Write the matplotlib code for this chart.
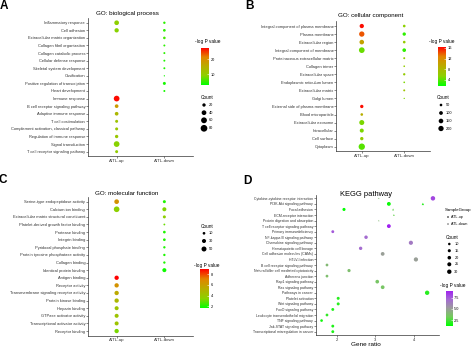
import numpy as np
import matplotlib
matplotlib.use("Agg")
import matplotlib.pyplot as plt
from matplotlib.colors import LinearSegmentedColormap, Normalize
from matplotlib.cm import ScalarMappable

plt.rcParams["font.family"] = ["Liberation Sans", "DejaVu Sans"]

W, H = 474, 348
nan = np.nan

groups = ["A/TL-up", "A/TL-down"]

# A: GO biological process
bp_terms = ["Inflammatory response", "Cell adhesion", "Extracellular matrix organization",
            "Collagen fibril organization", "Collagen catabolic process", "Cellular defense response",
            "Skeletal system development", "Ossification", "Positive regulation of transcription",
            "Heart development", "Immune response", "B cell receptor signaling pathway",
            "Adaptive immune response", "T cell costimulation", "Complement activation, classical pathway",
            "Regulation of immune response", "Signal transduction", "T cell receptor signaling pathway"]
bp_up_count = [39, 33, nan, nan, nan, nan, nan, nan, nan, nan, 58, 24, 24, 16, 16, 20, 58, 16]
bp_up_logp = [9.5, 9, nan, nan, nan, nan, nan, nan, nan, nan, 27, 18, 13.5, 11.5, 11, 11, 9, 10]
bp_down_count = [10, 13, 12, 7, 7, 7, 7, 3, 16, 7, nan, nan, nan, nan, nan, nan, nan, nan]
bp_down_logp = [5, 5, 6, 5, 5, 4.5, 4.5, 4, 4, 4, nan, nan, nan, nan, nan, nan, nan, nan]

# B: GO cellular component
cc_terms = ["Integral component of plasma membrane", "Plasma membrane", "Extracellular region",
            "Integral component of membrane", "Proteinaceous extracellular matrix", "Collagen trimer",
            "Extracellular space", "Endoplasmic reticulum lumen", "Extracellular matrix", "Golgi lumen",
            "External side of plasma membrane", "Blood microparticle", "Extracellular exosome",
            "Intracellular", "Cell surface", "Cytoplasm"]
cc_up_count = [130, 200, 150, 230, nan, nan, nan, nan, nan, nan, 80, 50, 180, 115, 80, 285]
cc_up_logp = [16, 14, 10, 4.5, nan, nan, nan, nan, nan, nan, 16, 9, 5, 5, 6, 4]
cc_down_count = [50, 80, 50, 95, 28, 20, 38, 20, 28, 12, nan, nan, nan, nan, nan, nan]
cc_down_logp = [5.5, 3, 6, 3, 6, 6, 6, 5, 7, 5, nan, nan, nan, nan, nan, nan]

# C: GO molecular function
mf_terms = ["Serine-type endopeptidase activity", "Calcium ion binding",
            "Extracellular matrix structural constituent", "Platelet-derived growth factor binding",
            "Protease binding", "Integrin binding", "Pyridoxal phosphate binding",
            "Protein tyrosine phosphatase activity", "Collagen binding", "Identical protein binding",
            "Antigen binding", "Receptor activity", "Transmembrane signaling receptor activity",
            "Protein kinase binding", "Heparin binding", "GTPase activator activity",
            "Transcriptional activator activity", "Receptor binding"]
mf_up_count = [43, 66, nan, nan, nan, nan, nan, nan, nan, nan, 36, 36, 36, 36, 30, 30, 30, 36]
mf_up_logp = [6.5, 3.5, nan, nan, nan, nan, nan, nan, nan, nan, 9, 6.5, 5.5, 4.8, 4.2, 4.2, 4.2, 3.2]
mf_down_count = [14, 30, 14, 1, 10, 10, 6, 6, 6, 30, nan, nan, nan, nan, nan, nan, nan, nan]
mf_down_logp = [2, 3.3, 3.5, 3, 2, 2, 2, 2, 2, 1.8, nan, nan, nan, nan, nan, nan, nan, nan]

# D: KEGG pathway
kegg_terms = ["Cytokine-cytokine receptor interaction", "PI3K-Akt signaling pathway", "Focal adhesion",
              "ECM-receptor interaction", "Protein digestion and absorption", "T cell receptor signaling pathway",
              "Primary immunodeficiency", "NF-kappa B signaling pathway", "Chemokine signaling pathway",
              "Hematopoietic cell lineage", "Cell adhesion molecules (CAMs)", "HTLV-I infection",
              "B cell receptor signaling pathway", "Natural killer cell mediated cytotoxicity",
              "Adherens junction", "Rap1 signaling pathway", "Ras signaling pathway", "Pathways in cancer",
              "Platelet activation", "Wnt signaling pathway", "FoxO signaling pathway",
              "Leukocyte transendothelial migration", "TNF signaling pathway", "Jak-STAT signaling pathway",
              "Transcriptional misregulation in cancer"]
kegg_up_ratio = [4.49, 3.35, 2.19, nan, nan, 3.35, 1.90, 2.76, 3.92, 2.62, 3.19, 4.05, 1.75,
                 2.32, 1.75, 3.05, 3.19, 4.34, 2.04, 2.04, 1.90, 1.75, 1.61, 1.90, 1.90]
kegg_up_count = [31, 23, 15, nan, nan, 23, 13, 19, 27, 18, 22, 28, 12,
                 16, 12, 21, 22, 30, 14, 14, 13, 12, 11, 13, 13]
kegg_up_logp = [8, 1.5, 1.3, nan, nan, 9, 7.5, 7, 6.5, 7, 5, 5, 4,
                3.8, 3.8, 3.5, 3.5, 2, 2, 2, 1.8, 2.2, 1.6, 1.8, 1.8]
kegg_down_ratio = [3.09, 4.23, 3.46, 3.48, 3.09] + [nan] * 20
kegg_down_count = [3, 9, 6, 5, 3] + [nan] * 20
kegg_down_logp = [4, 2, 3, 3, 4] + [nan] * 20

go_cmap = LinearSegmentedColormap.from_list("go", ["#00ff00", "#8cd100", "#b8ad00", "#e28400", "#ff0000"])
kegg_cmap = LinearSegmentedColormap.from_list("kegg", ["#00ff00", "#72cc5a", "#9c9c9c", "#a46ad2", "#a020f0"])

fig = plt.figure(figsize=(W / 100, H / 100), dpi=100)


def px_axes(x0, y0, x1, y1):
    return fig.add_axes([x0 / W, 1 - y1 / H, (x1 - x0) / W, (y1 - y0) / H])


def dot_area(count, a, b):
    d = np.sqrt(a + b * np.asarray(count, float))
    return (0.72 * d) ** 2


def style_axes(ax, lab_size):
    for s in ["top", "right"]:
        ax.spines[s].set_visible(False)
    for s in ["left", "bottom"]:
        ax.spines[s].set_linewidth(0.5)
        ax.spines[s].set_color("#333333")
    ax.tick_params(length=1.2, width=0.4, pad=0.8, labelsize=lab_size, colors="#333333")


def go_panel(box, terms, up_n, up_p, dn_n, dn_p, norm, sa, sb):
    ax = px_axes(*box)
    n = len(terms)
    ypos = np.arange(n)
    for xi, cnt, lp in [(0, up_n, up_p), (1, dn_n, dn_p)]:
        cnt = np.array(cnt, float)
        lp = np.array(lp, float)
        ok = ~np.isnan(cnt)
        ax.scatter(np.full(ok.sum(), xi), ypos[ok], s=dot_area(cnt[ok], sa, sb), c=lp[ok],
                   cmap=go_cmap, norm=norm, edgecolors="none", zorder=3, clip_on=False)
    ax.set_xlim(-0.6, 1.6)
    ax.set_ylim(n - 0.4, -0.6)
    ax.set_xticks([0, 1], groups)
    ax.set_yticks(ypos, terms)
    style_axes(ax, 2.9)
    ax.tick_params(axis="x", labelsize=3.2)
    return ax


def colorbar(box, norm, cmap, ticks, labels, title, tx, ty):
    cax = px_axes(*box)
    cb = fig.colorbar(ScalarMappable(norm=norm, cmap=cmap), cax=cax, ticks=ticks)
    cb.outline.set_visible(False)
    cb.ax.set_yticklabels(labels)
    cb.ax.tick_params(length=1.5, width=0.4, color="white", direction="in", pad=1, labelsize=2.8)
    ov.text(tx, ty, title, ha="center", va="center", fontsize=3.4)


ov = fig.add_axes([0, 0, 1, 1], zorder=10)
ov.set_xlim(0, W)
ov.set_ylim(H, 0)
ov.axis("off")


def size_legend(x, ys, title_xy, counts, sa, sb, marker="o"):
    ov.text(title_xy[0], title_xy[1], "Count", ha="center", va="center", fontsize=3.4)
    ov.scatter([x] * len(ys), ys, s=dot_area(counts, sa, sb), c="black", marker=marker, edgecolors="none")
    for y, c in zip(ys, counts):
        ov.text(x + 5, y, str(c), ha="left", va="center", fontsize=2.8)


# Panel A
norm_a = Normalize(3, 27.5)
go_panel((88, 18.2, 193, 156.2), bp_terms, bp_up_count, bp_up_logp, bp_down_count, bp_down_logp,
         norm_a, 0, 0.5625)
ov.text(127, 13.5, "GO: biological process", ha="center", va="center", fontsize=4.5)
colorbar((201, 47.7, 209, 85), norm_a, go_cmap, [10, 20], ["10", "20"], "-log P value", 207.5, 42)
size_legend(204, [105, 112.7, 120.3, 128.3], (207, 97.7), [20, 40, 60, 80], 0, 0.5625)

# Panel B
norm_b = Normalize(1.75, 16.4)
go_panel((336.3, 21.2, 429.7, 151.5), cc_terms, cc_up_count, cc_up_logp, cc_down_count, cc_down_logp,
         norm_b, 0, 0.1406)
ov.text(371, 15.5, "GO: cellular component", ha="center", va="center", fontsize=4.5)
colorbar((438, 46.7, 446, 86), norm_b, go_cmap, [4, 8, 12, 16], ["4", "8", "12", "16"],
         "-log P value", 441.5, 41.7)
size_legend(441, [105, 113, 121, 128.5], (443.5, 97.7), [50, 100, 150, 200], 0, 0.1406)

# Panel C
norm_c = Normalize(1.6, 9)
go_panel((88, 197.1, 193, 335.6), mf_terms, mf_up_count, mf_up_logp, mf_down_count, mf_down_logp,
         norm_c, 2.9, 0.44)
ov.text(127, 193.5, "GO: molecular function", ha="center", va="center", fontsize=4.5)
size_legend(204, [233.3, 241, 249], (207.5, 226.7), [10, 30, 50], 2.9, 0.44)
colorbar((200, 269, 209, 308.3), norm_c, go_cmap, [2, 4, 6, 8], ["2", "4", "6", "8"],
         "-log P value", 207, 265)

# Panel D
norm_d = Normalize(1.3, 9)
axd = px_axes(316, 195, 438.5, 335)
ny = len(kegg_terms)
yk = np.arange(ny)
ur = np.array(kegg_up_ratio, float)
ok = ~np.isnan(ur)
axd.scatter(ur[ok], yk[ok], s=dot_area(np.array(kegg_up_count, float)[ok], 0, 0.64),
            c=np.array(kegg_up_logp, float)[ok], cmap=kegg_cmap, norm=norm_d, marker="o",
            edgecolors="none", zorder=3, clip_on=False)
dr = np.array(kegg_down_ratio, float)
ok = ~np.isnan(dr)
axd.scatter(dr[ok], yk[ok], s=dot_area(np.array(kegg_down_count, float)[ok], 0, 0.64),
            c=np.array(kegg_down_logp, float)[ok], cmap=kegg_cmap, norm=norm_d, marker="^",
            edgecolors="none", zorder=3, clip_on=False)
axd.set_xlim(1.466, 4.634)
axd.set_ylim(ny - 0.4, -0.6)
axd.set_yticks(yk, kegg_terms)
axd.set_xticks([2, 3, 4])
style_axes(axd, 2.5)
axd.tick_params(axis="x", labelsize=3.0)
ov.text(366, 194, "KEGG pathway", ha="center", va="center", fontsize=5.4)
ov.text(366, 344.5, "Gene ratio", ha="center", va="center", fontsize=4.6)

ov.text(445, 210.5, "SampleGroup", ha="left", va="center", fontsize=3.2)
ov.scatter([448], [217], s=1.2, c="black", marker="o", edgecolors="none")
ov.scatter([448], [223.7], s=1.2, c="black", marker="^", edgecolors="none")
ov.text(451, 217, "A/TL-up", ha="left", va="center", fontsize=2.6)
ov.text(451, 223.7, "A/TL-down", ha="left", va="center", fontsize=2.6)
size_legend(449.3, [244, 250.7, 257.7, 264.3, 271.7], (451.7, 237.7), [10, 15, 20, 25, 30], 0, 0.64)
colorbar((446, 290.7, 452.7, 325.7), norm_d, kegg_cmap, [2.5, 5.0, 7.5], ["2.5", "5.0", "7.5"],
         "-log P value", 453, 286)

# panel letters
for x, y, t in [(4, 6, "A"), (250, 6, "B"), (3, 180, "C"), (247, 181, "D")]:
    ov.text(x, y, t, ha="center", va="center", fontsize=8.5, fontweight="bold")

fig.savefig("out.png", dpi=100)
